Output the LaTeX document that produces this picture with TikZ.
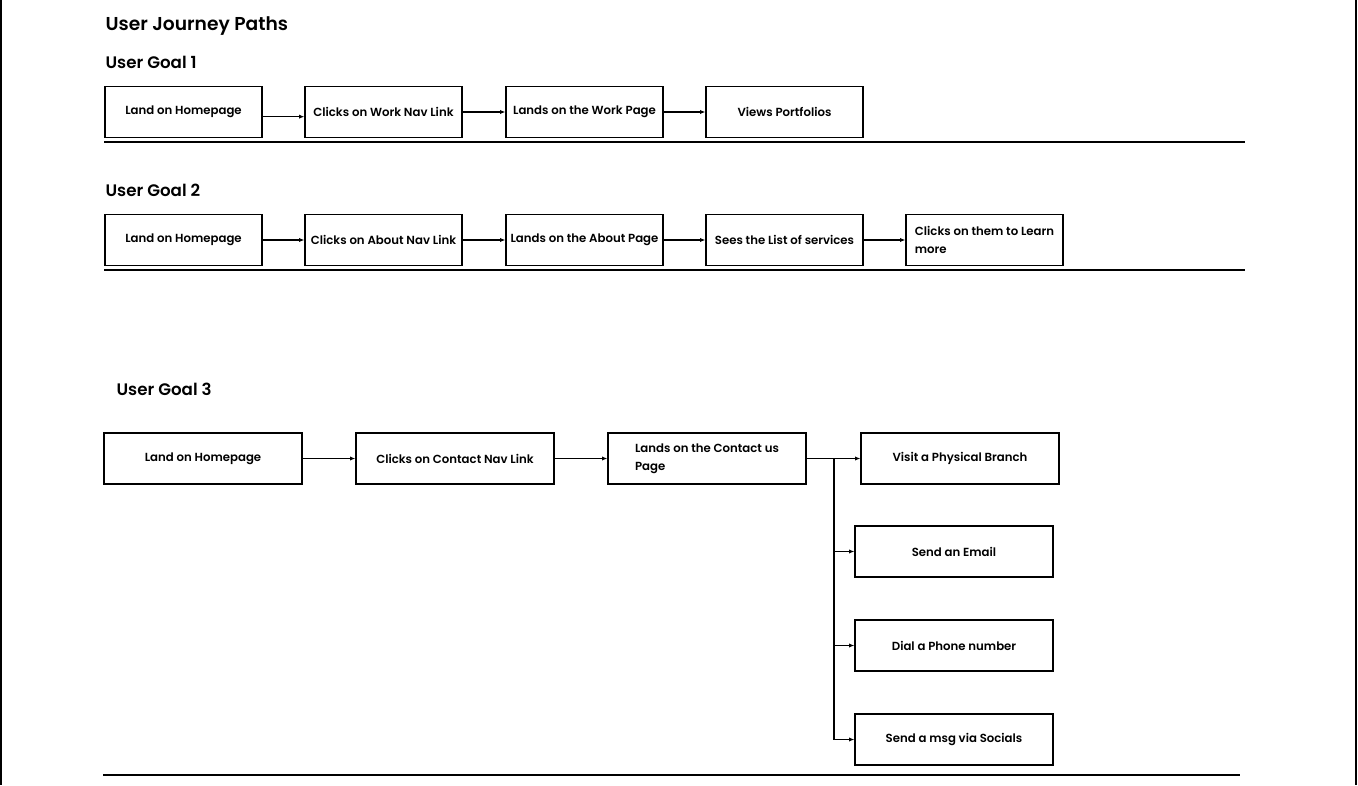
\documentclass[tikz,border=0pt]{standalone}
\usepackage{fontspec}
\setmainfont{Poppins}[UprightFont={* SemiBold}, BoldFont={* SemiBold}]
\usepackage{tikz}
\usetikzlibrary{arrows.meta, positioning, calc}

\begin{document}
\begin{tikzpicture}[x=0.75pt, y=-0.75pt, line width=0.9pt,
      every node/.style={font=\fontsize{8.8}{13.5}\selectfont, text=black},
      stepbox/.style={draw, line width=0.9pt, minimum width=117.75pt, minimum height=38.25pt, inner sep=0pt},
      widebox/.style={stepbox, minimum width=148.5pt},
      goal/.style={anchor=base west, inner sep=0pt, font=\fontsize{12.5}{15}\bfseries},
      flow/.style={-{Latex[length=4pt,width=3.2pt]}, line width=0.8pt},
      rule/.style={line width=1.1pt}]
      \useasboundingbox (0,0) rectangle (1358,785);
      % page frame
      \draw[line width=1.1pt] (1,0) -- (1,785);
      \draw[line width=1.1pt] (1356,0) -- (1356,785);
      % headings
      \node[goal, font=\fontsize{14}{17}\bfseries] (title) at (105,31) {User Journey Paths};
      \node[goal] (goalA) at (105,68) {User Goal 1};
      \node[goal] (goalB) at (105,196) {User Goal 2};
      \node[goal] (goalC) at (116,395) {User Goal 3};
      % Goal 1
      \node[stepbox] (a1) at (183.5,112) {Land on Homepage};
      \node[stepbox] (a2) at (383.5,112) {Clicks on Work Nav Link};
      \node[stepbox] (a3) at (584.5,112) {Lands on the Work Page};
      \node[stepbox] (a4) at (784.5,112) {Views Portfolios};
      \draw[flow] ([yshift=-3.5pt]a1.east) -- ([yshift=-3.5pt]a2.west);
      \draw[flow] (a2) -- (a3);
      \draw[flow] (a3) -- (a4);
      \draw[rule] (104,142) -- (1245,142);
      % Goal 2
      \node[stepbox] (b1) at (183.5,240) {Land on Homepage};
      \node[stepbox] (b2) at (383.5,240) {Clicks on About Nav Link};
      \node[stepbox] (b3) at (584.5,240) {Lands on the About Page};
      \node[stepbox] (b4) at (784.5,240) {Sees the List of services};
      \node[stepbox, align=left] (b5) at (984.5,240) {Clicks on them to Learn\\more};
      \draw[flow] (b1) -- (b2);
      \draw[flow] (b2) -- (b3);
      \draw[flow] (b3) -- (b4);
      \draw[flow] (b4) -- (b5);
      \draw[rule] (104,270) -- (1245,270);
      % Goal 3
      \node[widebox] (c1) at (203,458.5) {Land on Homepage};
      \node[widebox] (c2) at (455,458.5) {Clicks on Contact Nav Link};
      \node[widebox, align=left] (c3) at (707,458.5) {Lands on the Contact us\\Page};
      \node[widebox] (c4) at (960,458.5) {Visit a Physical Branch};
      \node[widebox] (c5) at (954,551.5) {Send an Email};
      \node[widebox] (c6) at (954,645.5) {Dial a Phone number};
      \node[widebox] (c7) at (954,739.5) {Send a msg via Socials};
      \draw[flow] (c1) -- (c2);
      \draw[flow] (c2) -- (c3);
      \draw[flow] (c3) -- (c4);
      \coordinate (fork) at (834,458.5);
      \draw (fork) -- (fork |- c7.west);
      \draw[flow] (fork |- c5.west) -- (c5.west);
      \draw[flow] (fork |- c6.west) -- (c6.west);
      \draw[flow] (fork |- c7.west) -- (c7.west);
      \draw[rule] (103,775) -- (1240,775);
\end{tikzpicture}
\end{document}
